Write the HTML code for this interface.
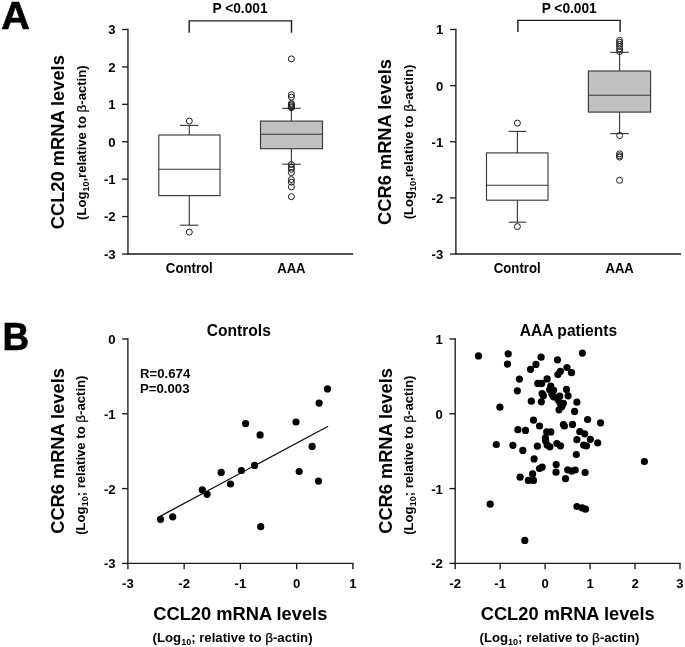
<!DOCTYPE html>
<html><head><meta charset="utf-8"><title>Figure</title>
<style>html,body{margin:0;padding:0;background:#fff}svg{display:block}text{font-family:"Liberation Sans",sans-serif;font-weight:bold;fill:#000}</style>
</head><body>
<svg width="685" height="647" viewBox="0 0 685 647">
<rect width="685" height="647" fill="#fff"/>
<text x="1.3" y="29.4" font-size="39.6" text-anchor="start" stroke="#000" stroke-width="0.7" stroke-linejoin="miter">A</text>
<text transform="translate(2.5,350.1) scale(0.945,1)" font-size="39" text-anchor="start" stroke="#000" stroke-width="0.7" stroke-linejoin="miter">B</text>
<line x1="127.95" y1="28.85" x2="127.95" y2="254.65" stroke="#1a1a1a" stroke-width="1.35" stroke-linecap="butt"/>
<line x1="127.95" y1="254.0" x2="353.1" y2="254.0" stroke="#1a1a1a" stroke-width="1.35" stroke-linecap="butt"/>
<line x1="122.15" y1="29.5" x2="127.95" y2="29.5" stroke="#1a1a1a" stroke-width="1.35" stroke-linecap="butt"/>
<text transform="translate(115.6,34.4) scale(0.96,1)" font-size="13.7" text-anchor="end" >3</text>
<line x1="122.15" y1="66.917" x2="127.95" y2="66.917" stroke="#1a1a1a" stroke-width="1.35" stroke-linecap="butt"/>
<text transform="translate(115.6,71.81700000000001) scale(0.96,1)" font-size="13.7" text-anchor="end" >2</text>
<line x1="122.15" y1="104.334" x2="127.95" y2="104.334" stroke="#1a1a1a" stroke-width="1.35" stroke-linecap="butt"/>
<text transform="translate(115.6,109.23400000000001) scale(0.96,1)" font-size="13.7" text-anchor="end" >1</text>
<line x1="122.15" y1="141.751" x2="127.95" y2="141.751" stroke="#1a1a1a" stroke-width="1.35" stroke-linecap="butt"/>
<text transform="translate(115.6,146.651) scale(0.96,1)" font-size="13.7" text-anchor="end" >0</text>
<line x1="122.15" y1="179.168" x2="127.95" y2="179.168" stroke="#1a1a1a" stroke-width="1.35" stroke-linecap="butt"/>
<text transform="translate(115.6,184.068) scale(0.96,1)" font-size="13.7" text-anchor="end" >-1</text>
<line x1="122.15" y1="216.585" x2="127.95" y2="216.585" stroke="#1a1a1a" stroke-width="1.35" stroke-linecap="butt"/>
<text transform="translate(115.6,221.485) scale(0.96,1)" font-size="13.7" text-anchor="end" >-2</text>
<line x1="122.15" y1="254.002" x2="127.95" y2="254.002" stroke="#1a1a1a" stroke-width="1.35" stroke-linecap="butt"/>
<text transform="translate(115.6,258.902) scale(0.96,1)" font-size="13.7" text-anchor="end" >-3</text>
<line x1="189.3" y1="125.4" x2="189.3" y2="135" stroke="#333" stroke-width="1.1" stroke-linecap="butt"/>
<line x1="189.3" y1="195.6" x2="189.3" y2="225.2" stroke="#333" stroke-width="1.1" stroke-linecap="butt"/>
<line x1="180" y1="125.4" x2="198.4" y2="125.4" stroke="#333" stroke-width="1.1" stroke-linecap="butt"/>
<line x1="180" y1="225.2" x2="198.4" y2="225.2" stroke="#333" stroke-width="1.1" stroke-linecap="butt"/>
<rect x="158.8" y="135" width="61.2" height="60.6" fill="#fff" stroke="#333" stroke-width="1.1"/>
<line x1="158.8" y1="169.2" x2="220" y2="169.2" stroke="#333" stroke-width="1.1" stroke-linecap="butt"/>
<circle cx="189.3" cy="121.1" r="3.0" fill="none" stroke="#1a1a1a" stroke-width="1.0"/>
<circle cx="189.3" cy="232.1" r="3.0" fill="none" stroke="#1a1a1a" stroke-width="1.0"/>
<line x1="291.4" y1="108.3" x2="291.4" y2="121.1" stroke="#333" stroke-width="1.1" stroke-linecap="butt"/>
<line x1="291.4" y1="148.7" x2="291.4" y2="164.2" stroke="#333" stroke-width="1.1" stroke-linecap="butt"/>
<line x1="282.2" y1="108.3" x2="300.6" y2="108.3" stroke="#333" stroke-width="1.1" stroke-linecap="butt"/>
<line x1="282.2" y1="164.2" x2="300.6" y2="164.2" stroke="#333" stroke-width="1.1" stroke-linecap="butt"/>
<rect x="260.5" y="121.1" width="62.0" height="27.6" fill="#c0c0c0" stroke="#333" stroke-width="1.1"/>
<line x1="260.5" y1="134.3" x2="322.5" y2="134.3" stroke="#333" stroke-width="1.1" stroke-linecap="butt"/>
<circle cx="291.4" cy="58.9" r="3.0" fill="none" stroke="#1a1a1a" stroke-width="1.0"/>
<circle cx="291.4" cy="94.7" r="3.0" fill="none" stroke="#1a1a1a" stroke-width="1.0"/>
<circle cx="291.4" cy="97.1" r="3.0" fill="none" stroke="#1a1a1a" stroke-width="1.0"/>
<circle cx="291.4" cy="103.5" r="3.0" fill="none" stroke="#1a1a1a" stroke-width="1.0"/>
<circle cx="291.4" cy="104.6" r="3.0" fill="none" stroke="#1a1a1a" stroke-width="1.0"/>
<circle cx="291.4" cy="105.7" r="3.0" fill="none" stroke="#1a1a1a" stroke-width="1.0"/>
<circle cx="291.4" cy="106.8" r="3.0" fill="none" stroke="#1a1a1a" stroke-width="1.0"/>
<circle cx="291.4" cy="107.7" r="3.0" fill="none" stroke="#1a1a1a" stroke-width="1.0"/>
<circle cx="291.4" cy="164.5" r="3.0" fill="none" stroke="#1a1a1a" stroke-width="1.0"/>
<circle cx="291.4" cy="167.3" r="3.0" fill="none" stroke="#1a1a1a" stroke-width="1.0"/>
<circle cx="291.4" cy="169.3" r="3.0" fill="none" stroke="#1a1a1a" stroke-width="1.0"/>
<circle cx="291.4" cy="172.6" r="3.0" fill="none" stroke="#1a1a1a" stroke-width="1.0"/>
<circle cx="291.4" cy="179.5" r="3.0" fill="none" stroke="#1a1a1a" stroke-width="1.0"/>
<circle cx="291.4" cy="182.1" r="3.0" fill="none" stroke="#1a1a1a" stroke-width="1.0"/>
<circle cx="291.4" cy="186.9" r="3.0" fill="none" stroke="#1a1a1a" stroke-width="1.0"/>
<circle cx="291.4" cy="196.7" r="3.0" fill="none" stroke="#1a1a1a" stroke-width="1.0"/>
<polyline points="189.2,32.8 189.2,20.9 291.5,20.9 291.5,32.8" fill="none" stroke="#1a1a1a" stroke-width="1.4"/>
<text transform="translate(240,12.5) scale(0.975,1)" font-size="14.1" text-anchor="middle" >P &lt;0.001</text>
<text transform="translate(189.3,272.9) scale(0.95,1)" font-size="13.9" text-anchor="middle" >Control</text>
<text transform="translate(291.4,272.9) scale(0.94,1)" font-size="13.9" text-anchor="middle" >AAA</text>
<text transform="translate(63.6,142.2) rotate(-90)" font-size="18.3" text-anchor="middle">CCL20 mRNA levels</text>
<text transform="translate(85.6,142.7) rotate(-90)" font-size="13.1" text-anchor="middle">(Log<tspan font-size="9" dy="3.2">10</tspan><tspan dy="-3.2">,relative to </tspan><tspan font-weight="normal" font-size="13.5" stroke="#000" stroke-width="0.25">β</tspan>-actin)</text>
<line x1="455.9" y1="28.85" x2="455.9" y2="254.65" stroke="#1a1a1a" stroke-width="1.35" stroke-linecap="butt"/>
<line x1="455.9" y1="254.0" x2="681.1" y2="254.0" stroke="#1a1a1a" stroke-width="1.35" stroke-linecap="butt"/>
<line x1="450.09999999999997" y1="29.5" x2="455.9" y2="29.5" stroke="#1a1a1a" stroke-width="1.35" stroke-linecap="butt"/>
<text transform="translate(443.3,34.4) scale(0.96,1)" font-size="13.7" text-anchor="end" >1</text>
<line x1="450.09999999999997" y1="85.625" x2="455.9" y2="85.625" stroke="#1a1a1a" stroke-width="1.35" stroke-linecap="butt"/>
<text transform="translate(443.3,90.525) scale(0.96,1)" font-size="13.7" text-anchor="end" >0</text>
<line x1="450.09999999999997" y1="141.75" x2="455.9" y2="141.75" stroke="#1a1a1a" stroke-width="1.35" stroke-linecap="butt"/>
<text transform="translate(443.3,146.65) scale(0.96,1)" font-size="13.7" text-anchor="end" >-1</text>
<line x1="450.09999999999997" y1="197.875" x2="455.9" y2="197.875" stroke="#1a1a1a" stroke-width="1.35" stroke-linecap="butt"/>
<text transform="translate(443.3,202.775) scale(0.96,1)" font-size="13.7" text-anchor="end" >-2</text>
<line x1="450.09999999999997" y1="254.0" x2="455.9" y2="254.0" stroke="#1a1a1a" stroke-width="1.35" stroke-linecap="butt"/>
<text transform="translate(443.3,258.9) scale(0.96,1)" font-size="13.7" text-anchor="end" >-3</text>
<line x1="517.4" y1="131.4" x2="517.4" y2="152.9" stroke="#333" stroke-width="1.1" stroke-linecap="butt"/>
<line x1="517.4" y1="200.2" x2="517.4" y2="222.2" stroke="#333" stroke-width="1.1" stroke-linecap="butt"/>
<line x1="508.5" y1="131.4" x2="526.3" y2="131.4" stroke="#333" stroke-width="1.1" stroke-linecap="butt"/>
<line x1="508.5" y1="222.2" x2="526.3" y2="222.2" stroke="#333" stroke-width="1.1" stroke-linecap="butt"/>
<rect x="486.5" y="152.9" width="61.5" height="47.3" fill="#fff" stroke="#333" stroke-width="1.1"/>
<line x1="486.5" y1="185.2" x2="548" y2="185.2" stroke="#333" stroke-width="1.1" stroke-linecap="butt"/>
<circle cx="517.4" cy="123.1" r="3.0" fill="none" stroke="#1a1a1a" stroke-width="1.0"/>
<circle cx="517.4" cy="226.6" r="3.0" fill="none" stroke="#1a1a1a" stroke-width="1.0"/>
<line x1="619.6" y1="52.3" x2="619.6" y2="71" stroke="#333" stroke-width="1.1" stroke-linecap="butt"/>
<line x1="619.6" y1="112.1" x2="619.6" y2="133.6" stroke="#333" stroke-width="1.1" stroke-linecap="butt"/>
<line x1="610.3" y1="52.3" x2="628.8" y2="52.3" stroke="#333" stroke-width="1.1" stroke-linecap="butt"/>
<line x1="610.3" y1="133.6" x2="628.8" y2="133.6" stroke="#333" stroke-width="1.1" stroke-linecap="butt"/>
<rect x="588.4" y="71" width="62.2" height="41.1" fill="#c0c0c0" stroke="#333" stroke-width="1.1"/>
<line x1="588.4" y1="95.3" x2="650.6" y2="95.3" stroke="#333" stroke-width="1.1" stroke-linecap="butt"/>
<circle cx="619.6" cy="40.4" r="3.0" fill="none" stroke="#1a1a1a" stroke-width="1.0"/>
<circle cx="619.6" cy="42.3" r="3.0" fill="none" stroke="#1a1a1a" stroke-width="1.0"/>
<circle cx="619.6" cy="44.3" r="3.0" fill="none" stroke="#1a1a1a" stroke-width="1.0"/>
<circle cx="619.6" cy="46.4" r="3.0" fill="none" stroke="#1a1a1a" stroke-width="1.0"/>
<circle cx="619.6" cy="48.9" r="3.0" fill="none" stroke="#1a1a1a" stroke-width="1.0"/>
<circle cx="619.6" cy="51.6" r="3.0" fill="none" stroke="#1a1a1a" stroke-width="1.0"/>
<circle cx="619.6" cy="135.5" r="3.0" fill="none" stroke="#1a1a1a" stroke-width="1.0"/>
<circle cx="619.6" cy="153.8" r="3.0" fill="none" stroke="#1a1a1a" stroke-width="1.0"/>
<circle cx="619.6" cy="155.7" r="3.0" fill="none" stroke="#1a1a1a" stroke-width="1.0"/>
<circle cx="619.6" cy="157.1" r="3.0" fill="none" stroke="#1a1a1a" stroke-width="1.0"/>
<circle cx="619.6" cy="180.3" r="3.0" fill="none" stroke="#1a1a1a" stroke-width="1.0"/>
<polyline points="517.9,31.9 517.9,20.4 620.1,20.4 620.1,31.9" fill="none" stroke="#1a1a1a" stroke-width="1.4"/>
<text transform="translate(569.2,12.5) scale(0.975,1)" font-size="14.1" text-anchor="middle" >P &lt;0.001</text>
<text transform="translate(517.2,272.9) scale(0.95,1)" font-size="13.9" text-anchor="middle" >Control</text>
<text transform="translate(619.6,272.9) scale(0.94,1)" font-size="13.9" text-anchor="middle" >AAA</text>
<text transform="translate(391.3,142) rotate(-90)" font-size="18.3" text-anchor="middle">CCR6 mRNA levels</text>
<text transform="translate(413.2,142.0) rotate(-90)" font-size="13.1" text-anchor="middle">(Log<tspan font-size="9" dy="3.2">10</tspan><tspan dy="-3.2">,relative to </tspan><tspan font-weight="normal" font-size="13.5" stroke="#000" stroke-width="0.25">β</tspan>-actin)</text>
<line x1="127.9" y1="338.35" x2="127.9" y2="564.05" stroke="#1a1a1a" stroke-width="1.35" stroke-linecap="butt"/>
<line x1="127.9" y1="563.4" x2="353.54999999999995" y2="563.4" stroke="#1a1a1a" stroke-width="1.35" stroke-linecap="butt"/>
<line x1="122.10000000000001" y1="339.0" x2="127.9" y2="339.0" stroke="#1a1a1a" stroke-width="1.35" stroke-linecap="butt"/>
<text transform="translate(115.6,343.9) scale(0.96,1)" font-size="13.7" text-anchor="end" >0</text>
<line x1="122.10000000000001" y1="413.8" x2="127.9" y2="413.8" stroke="#1a1a1a" stroke-width="1.35" stroke-linecap="butt"/>
<text transform="translate(115.6,418.7) scale(0.96,1)" font-size="13.7" text-anchor="end" >-1</text>
<line x1="122.10000000000001" y1="488.6" x2="127.9" y2="488.6" stroke="#1a1a1a" stroke-width="1.35" stroke-linecap="butt"/>
<text transform="translate(115.6,493.5) scale(0.96,1)" font-size="13.7" text-anchor="end" >-2</text>
<line x1="122.10000000000001" y1="563.4" x2="127.9" y2="563.4" stroke="#1a1a1a" stroke-width="1.35" stroke-linecap="butt"/>
<text transform="translate(115.6,568.3) scale(0.96,1)" font-size="13.7" text-anchor="end" >-3</text>
<line x1="127.9" y1="563.4" x2="127.9" y2="569.3" stroke="#1a1a1a" stroke-width="1.35" stroke-linecap="butt"/>
<text transform="translate(127.9,587.9) scale(0.96,1)" font-size="13.7" text-anchor="middle" >-3</text>
<line x1="184.15" y1="563.4" x2="184.15" y2="569.3" stroke="#1a1a1a" stroke-width="1.35" stroke-linecap="butt"/>
<text transform="translate(184.15,587.9) scale(0.96,1)" font-size="13.7" text-anchor="middle" >-2</text>
<line x1="240.4" y1="563.4" x2="240.4" y2="569.3" stroke="#1a1a1a" stroke-width="1.35" stroke-linecap="butt"/>
<text transform="translate(240.4,587.9) scale(0.96,1)" font-size="13.7" text-anchor="middle" >-1</text>
<line x1="296.65" y1="563.4" x2="296.65" y2="569.3" stroke="#1a1a1a" stroke-width="1.35" stroke-linecap="butt"/>
<text transform="translate(296.65,587.9) scale(0.96,1)" font-size="13.7" text-anchor="middle" >0</text>
<line x1="352.9" y1="563.4" x2="352.9" y2="569.3" stroke="#1a1a1a" stroke-width="1.35" stroke-linecap="butt"/>
<text transform="translate(352.9,587.9) scale(0.96,1)" font-size="13.7" text-anchor="middle" >1</text>
<text x="238.8" y="335.6" font-size="15.6" text-anchor="middle" >Controls</text>
<text x="140" y="378.4" font-size="13.2" text-anchor="start" >R=0.674</text>
<text x="140" y="393.4" font-size="13.2" text-anchor="start" >P=0.003</text>
<line x1="160.5" y1="516.1" x2="328.1" y2="426.2" stroke="#111" stroke-width="1.3" stroke-linecap="butt"/>
<circle cx="160.5" cy="519.3" r="3.6" fill="#000"/>
<circle cx="172.7" cy="516.8" r="3.6" fill="#000"/>
<circle cx="202.3" cy="489.8" r="3.6" fill="#000"/>
<circle cx="207.1" cy="494.3" r="3.6" fill="#000"/>
<circle cx="221.2" cy="472.4" r="3.6" fill="#000"/>
<circle cx="230.5" cy="484.0" r="3.6" fill="#000"/>
<circle cx="241.4" cy="470.5" r="3.6" fill="#000"/>
<circle cx="254.6" cy="465.4" r="3.6" fill="#000"/>
<circle cx="245.6" cy="423.6" r="3.6" fill="#000"/>
<circle cx="260.1" cy="434.9" r="3.6" fill="#000"/>
<circle cx="260.7" cy="526.7" r="3.6" fill="#000"/>
<circle cx="296.0" cy="422.0" r="3.6" fill="#000"/>
<circle cx="299.2" cy="471.5" r="3.6" fill="#000"/>
<circle cx="312.1" cy="446.4" r="3.6" fill="#000"/>
<circle cx="318.5" cy="481.1" r="3.6" fill="#000"/>
<circle cx="319.1" cy="403.1" r="3.6" fill="#000"/>
<circle cx="327.5" cy="388.9" r="3.6" fill="#000"/>
<text x="153.3" y="620.3" font-size="18.3" text-anchor="start" >CCL20 mRNA levels</text>
<text x="152.6" y="641.5" font-size="13.2" text-anchor="start" >(Log<tspan font-size="9" dy="3.2">10</tspan><tspan dy="-3.2">; relative to </tspan><tspan font-weight="normal" font-size="13.5" stroke="#000" stroke-width="0.25">β</tspan>-actin)</text>
<text transform="translate(64.2,533.8) rotate(-90)" font-size="18.25" text-anchor="start">CCR6 mRNA levels</text>
<text transform="translate(85.2,534.8) rotate(-90)" font-size="13.13" text-anchor="start">(Log<tspan font-size="9" dy="3.2">10</tspan><tspan dy="-3.2">; relative to </tspan><tspan font-weight="normal" font-size="13.5" stroke="#000" stroke-width="0.25">β</tspan>-actin)</text>
<line x1="455.2" y1="338.35" x2="455.2" y2="564.05" stroke="#1a1a1a" stroke-width="1.35" stroke-linecap="butt"/>
<line x1="455.2" y1="563.4" x2="680.65" y2="563.4" stroke="#1a1a1a" stroke-width="1.35" stroke-linecap="butt"/>
<line x1="449.4" y1="339.0" x2="455.2" y2="339.0" stroke="#1a1a1a" stroke-width="1.35" stroke-linecap="butt"/>
<text transform="translate(442.9,343.9) scale(0.96,1)" font-size="13.7" text-anchor="end" >1</text>
<line x1="449.4" y1="413.8" x2="455.2" y2="413.8" stroke="#1a1a1a" stroke-width="1.35" stroke-linecap="butt"/>
<text transform="translate(442.9,418.7) scale(0.96,1)" font-size="13.7" text-anchor="end" >0</text>
<line x1="449.4" y1="488.6" x2="455.2" y2="488.6" stroke="#1a1a1a" stroke-width="1.35" stroke-linecap="butt"/>
<text transform="translate(442.9,493.5) scale(0.96,1)" font-size="13.7" text-anchor="end" >-1</text>
<line x1="449.4" y1="563.4" x2="455.2" y2="563.4" stroke="#1a1a1a" stroke-width="1.35" stroke-linecap="butt"/>
<text transform="translate(442.9,568.3) scale(0.96,1)" font-size="13.7" text-anchor="end" >-2</text>
<line x1="455.2" y1="563.4" x2="455.2" y2="569.3" stroke="#1a1a1a" stroke-width="1.35" stroke-linecap="butt"/>
<text transform="translate(455.2,587.9) scale(0.96,1)" font-size="13.7" text-anchor="middle" >-2</text>
<line x1="500.15999999999997" y1="563.4" x2="500.15999999999997" y2="569.3" stroke="#1a1a1a" stroke-width="1.35" stroke-linecap="butt"/>
<text transform="translate(500.15999999999997,587.9) scale(0.96,1)" font-size="13.7" text-anchor="middle" >-1</text>
<line x1="545.12" y1="563.4" x2="545.12" y2="569.3" stroke="#1a1a1a" stroke-width="1.35" stroke-linecap="butt"/>
<text transform="translate(545.12,587.9) scale(0.96,1)" font-size="13.7" text-anchor="middle" >0</text>
<line x1="590.0799999999999" y1="563.4" x2="590.0799999999999" y2="569.3" stroke="#1a1a1a" stroke-width="1.35" stroke-linecap="butt"/>
<text transform="translate(590.0799999999999,587.9) scale(0.96,1)" font-size="13.7" text-anchor="middle" >1</text>
<line x1="635.04" y1="563.4" x2="635.04" y2="569.3" stroke="#1a1a1a" stroke-width="1.35" stroke-linecap="butt"/>
<text transform="translate(635.04,587.9) scale(0.96,1)" font-size="13.7" text-anchor="middle" >2</text>
<line x1="680.0" y1="563.4" x2="680.0" y2="569.3" stroke="#1a1a1a" stroke-width="1.35" stroke-linecap="butt"/>
<text transform="translate(680.0,587.9) scale(0.96,1)" font-size="13.7" text-anchor="middle" >3</text>
<text x="568.5" y="335.5" font-size="15.6" text-anchor="middle" >AAA patients</text>
<circle cx="478.5" cy="355.9" r="3.6" fill="#000"/>
<circle cx="508.2" cy="353.8" r="3.6" fill="#000"/>
<circle cx="507.5" cy="364.1" r="3.6" fill="#000"/>
<circle cx="541.1" cy="357.2" r="3.6" fill="#000"/>
<circle cx="535.9" cy="364.4" r="3.6" fill="#000"/>
<circle cx="530.5" cy="369.3" r="3.6" fill="#000"/>
<circle cx="557.5" cy="359.8" r="3.6" fill="#000"/>
<circle cx="582.4" cy="353.1" r="3.6" fill="#000"/>
<circle cx="567.0" cy="367.5" r="3.6" fill="#000"/>
<circle cx="571.5" cy="372.7" r="3.6" fill="#000"/>
<circle cx="560.4" cy="371.3" r="3.6" fill="#000"/>
<circle cx="557.9" cy="374.5" r="3.6" fill="#000"/>
<circle cx="519.4" cy="379.1" r="3.6" fill="#000"/>
<circle cx="547.1" cy="378.9" r="3.6" fill="#000"/>
<circle cx="537.8" cy="383.4" r="3.6" fill="#000"/>
<circle cx="541.7" cy="383.4" r="3.6" fill="#000"/>
<circle cx="550.8" cy="386.0" r="3.6" fill="#000"/>
<circle cx="517.3" cy="390.8" r="3.6" fill="#000"/>
<circle cx="549.7" cy="389.7" r="3.6" fill="#000"/>
<circle cx="553.6" cy="390.3" r="3.6" fill="#000"/>
<circle cx="566.5" cy="389.4" r="3.6" fill="#000"/>
<circle cx="542.1" cy="393.6" r="3.6" fill="#000"/>
<circle cx="543.4" cy="395.7" r="3.6" fill="#000"/>
<circle cx="551.9" cy="394.2" r="3.6" fill="#000"/>
<circle cx="553.6" cy="396.8" r="3.6" fill="#000"/>
<circle cx="559.7" cy="396.2" r="3.6" fill="#000"/>
<circle cx="568.1" cy="395.8" r="3.6" fill="#000"/>
<circle cx="557.9" cy="399.6" r="3.6" fill="#000"/>
<circle cx="531.3" cy="401.2" r="3.6" fill="#000"/>
<circle cx="541.3" cy="401.8" r="3.6" fill="#000"/>
<circle cx="560.1" cy="403.3" r="3.6" fill="#000"/>
<circle cx="563.4" cy="403.3" r="3.6" fill="#000"/>
<circle cx="576.9" cy="402.2" r="3.6" fill="#000"/>
<circle cx="561.8" cy="406.6" r="3.6" fill="#000"/>
<circle cx="499.9" cy="407.2" r="3.6" fill="#000"/>
<circle cx="559.0" cy="409.8" r="3.6" fill="#000"/>
<circle cx="574.6" cy="411.4" r="3.6" fill="#000"/>
<circle cx="533.5" cy="420.2" r="3.6" fill="#000"/>
<circle cx="539.5" cy="426.0" r="3.6" fill="#000"/>
<circle cx="563.4" cy="424.5" r="3.6" fill="#000"/>
<circle cx="564.4" cy="426.0" r="3.6" fill="#000"/>
<circle cx="572.5" cy="424.4" r="3.6" fill="#000"/>
<circle cx="517.9" cy="429.7" r="3.6" fill="#000"/>
<circle cx="525.5" cy="430.4" r="3.6" fill="#000"/>
<circle cx="546.7" cy="431.9" r="3.6" fill="#000"/>
<circle cx="550.8" cy="431.9" r="3.6" fill="#000"/>
<circle cx="579.8" cy="431.7" r="3.6" fill="#000"/>
<circle cx="545.4" cy="437.9" r="3.6" fill="#000"/>
<circle cx="545.6" cy="440.8" r="3.6" fill="#000"/>
<circle cx="576.9" cy="439.7" r="3.6" fill="#000"/>
<circle cx="496.3" cy="444.5" r="3.6" fill="#000"/>
<circle cx="512.9" cy="445.3" r="3.6" fill="#000"/>
<circle cx="537.4" cy="446.2" r="3.6" fill="#000"/>
<circle cx="547.1" cy="444.9" r="3.6" fill="#000"/>
<circle cx="549.9" cy="446.8" r="3.6" fill="#000"/>
<circle cx="556.9" cy="443.5" r="3.6" fill="#000"/>
<circle cx="560.5" cy="445.8" r="3.6" fill="#000"/>
<circle cx="522.8" cy="450.4" r="3.6" fill="#000"/>
<circle cx="576.3" cy="454.5" r="3.6" fill="#000"/>
<circle cx="534.1" cy="458.9" r="3.6" fill="#000"/>
<circle cx="587.6" cy="419.5" r="3.6" fill="#000"/>
<circle cx="600.6" cy="422.8" r="3.6" fill="#000"/>
<circle cx="584.7" cy="433.8" r="3.6" fill="#000"/>
<circle cx="590.3" cy="439.3" r="3.6" fill="#000"/>
<circle cx="597.7" cy="442.8" r="3.6" fill="#000"/>
<circle cx="583.6" cy="445.1" r="3.6" fill="#000"/>
<circle cx="586.5" cy="445.8" r="3.6" fill="#000"/>
<circle cx="556.2" cy="464.6" r="3.6" fill="#000"/>
<circle cx="542.1" cy="467.2" r="3.6" fill="#000"/>
<circle cx="539.5" cy="468.5" r="3.6" fill="#000"/>
<circle cx="567.7" cy="469.8" r="3.6" fill="#000"/>
<circle cx="571.6" cy="471.1" r="3.6" fill="#000"/>
<circle cx="575.2" cy="470.0" r="3.6" fill="#000"/>
<circle cx="556.0" cy="472.2" r="3.6" fill="#000"/>
<circle cx="532.6" cy="473.9" r="3.6" fill="#000"/>
<circle cx="520.1" cy="477.2" r="3.6" fill="#000"/>
<circle cx="565.5" cy="478.7" r="3.6" fill="#000"/>
<circle cx="528.3" cy="480.4" r="3.6" fill="#000"/>
<circle cx="533.5" cy="480.4" r="3.6" fill="#000"/>
<circle cx="490.2" cy="504.2" r="3.6" fill="#000"/>
<circle cx="576.9" cy="506.5" r="3.6" fill="#000"/>
<circle cx="524.8" cy="540.4" r="3.6" fill="#000"/>
<circle cx="644.4" cy="461.5" r="3.6" fill="#000"/>
<circle cx="585.1" cy="472.5" r="3.6" fill="#000"/>
<circle cx="582.2" cy="507.9" r="3.6" fill="#000"/>
<circle cx="585.5" cy="509.2" r="3.6" fill="#000"/>
<text x="480.7" y="620.3" font-size="18.3" text-anchor="start" >CCL20 mRNA levels</text>
<text x="479.5" y="641.5" font-size="13.2" text-anchor="start" >(Log<tspan font-size="9" dy="3.2">10</tspan><tspan dy="-3.2">; relative to </tspan><tspan font-weight="normal" font-size="13.5" stroke="#000" stroke-width="0.25">β</tspan>-actin)</text>
<text transform="translate(392.0,533.8) rotate(-90)" font-size="18.25" text-anchor="start">CCR6 mRNA levels</text>
<text transform="translate(413.0,534.8) rotate(-90)" font-size="13.13" text-anchor="start">(Log<tspan font-size="9" dy="3.2">10</tspan><tspan dy="-3.2">; relative to </tspan><tspan font-weight="normal" font-size="13.5" stroke="#000" stroke-width="0.25">β</tspan>-actin)</text>
</svg>
</body></html>
